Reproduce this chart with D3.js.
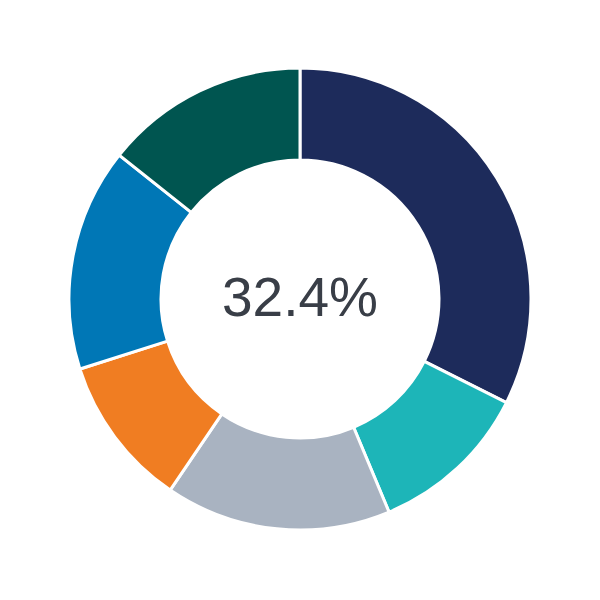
<!DOCTYPE html>
<html>
<head>
<meta charset="utf-8">
<script src="https://cdn.jsdelivr.net/npm/d3@7"></script>
<style>
  html, body { margin: 0; padding: 0; background: #fff; }
</style>
</head>
<body>
<svg width="600" height="600"></svg>
<script>
const categories = ["Segment 1", "Segment 2", "Segment 3", "Segment 4", "Segment 5", "Segment 6"];
const values = [32.4, 11.3, 15.8, 10.6, 15.6, 14.3];
const colors = ["#1d2b5b", "#1db5b8", "#a9b3c1", "#f07d22", "#0077b6", "#005550"];
const centerLabel = "32.4%";

const width = 600, height = 600;
const cx = 300, cy = 299;
const outerR = 231, innerR = 139;

const data = categories.map((c, i) => ({name: c, value: values[i]}));

const svg = d3.select("svg");
const g = svg.append("g").attr("transform", `translate(${cx},${cy})`);

const pie = d3.pie().value(d => d.value).sort(null);
const arc = d3.arc().innerRadius(innerR).outerRadius(outerR);

const color = d3.scaleOrdinal().domain(categories).range(colors);

g.selectAll("path")
  .data(pie(data))
  .join("path")
    .attr("d", arc)
    .attr("fill", d => color(d.data.name))
    .attr("stroke", "#fff")
    .attr("stroke-width", 3)
    .attr("stroke-linejoin", "miter");

g.append("text")
  .attr("text-anchor", "middle")
  .attr("y", 17)
  .attr("font-family", "'Liberation Sans', Arial, sans-serif")
  .attr("font-size", 55)
  .attr("fill", "#393e47")
  .text(centerLabel);
</script>
</body>
</html>
